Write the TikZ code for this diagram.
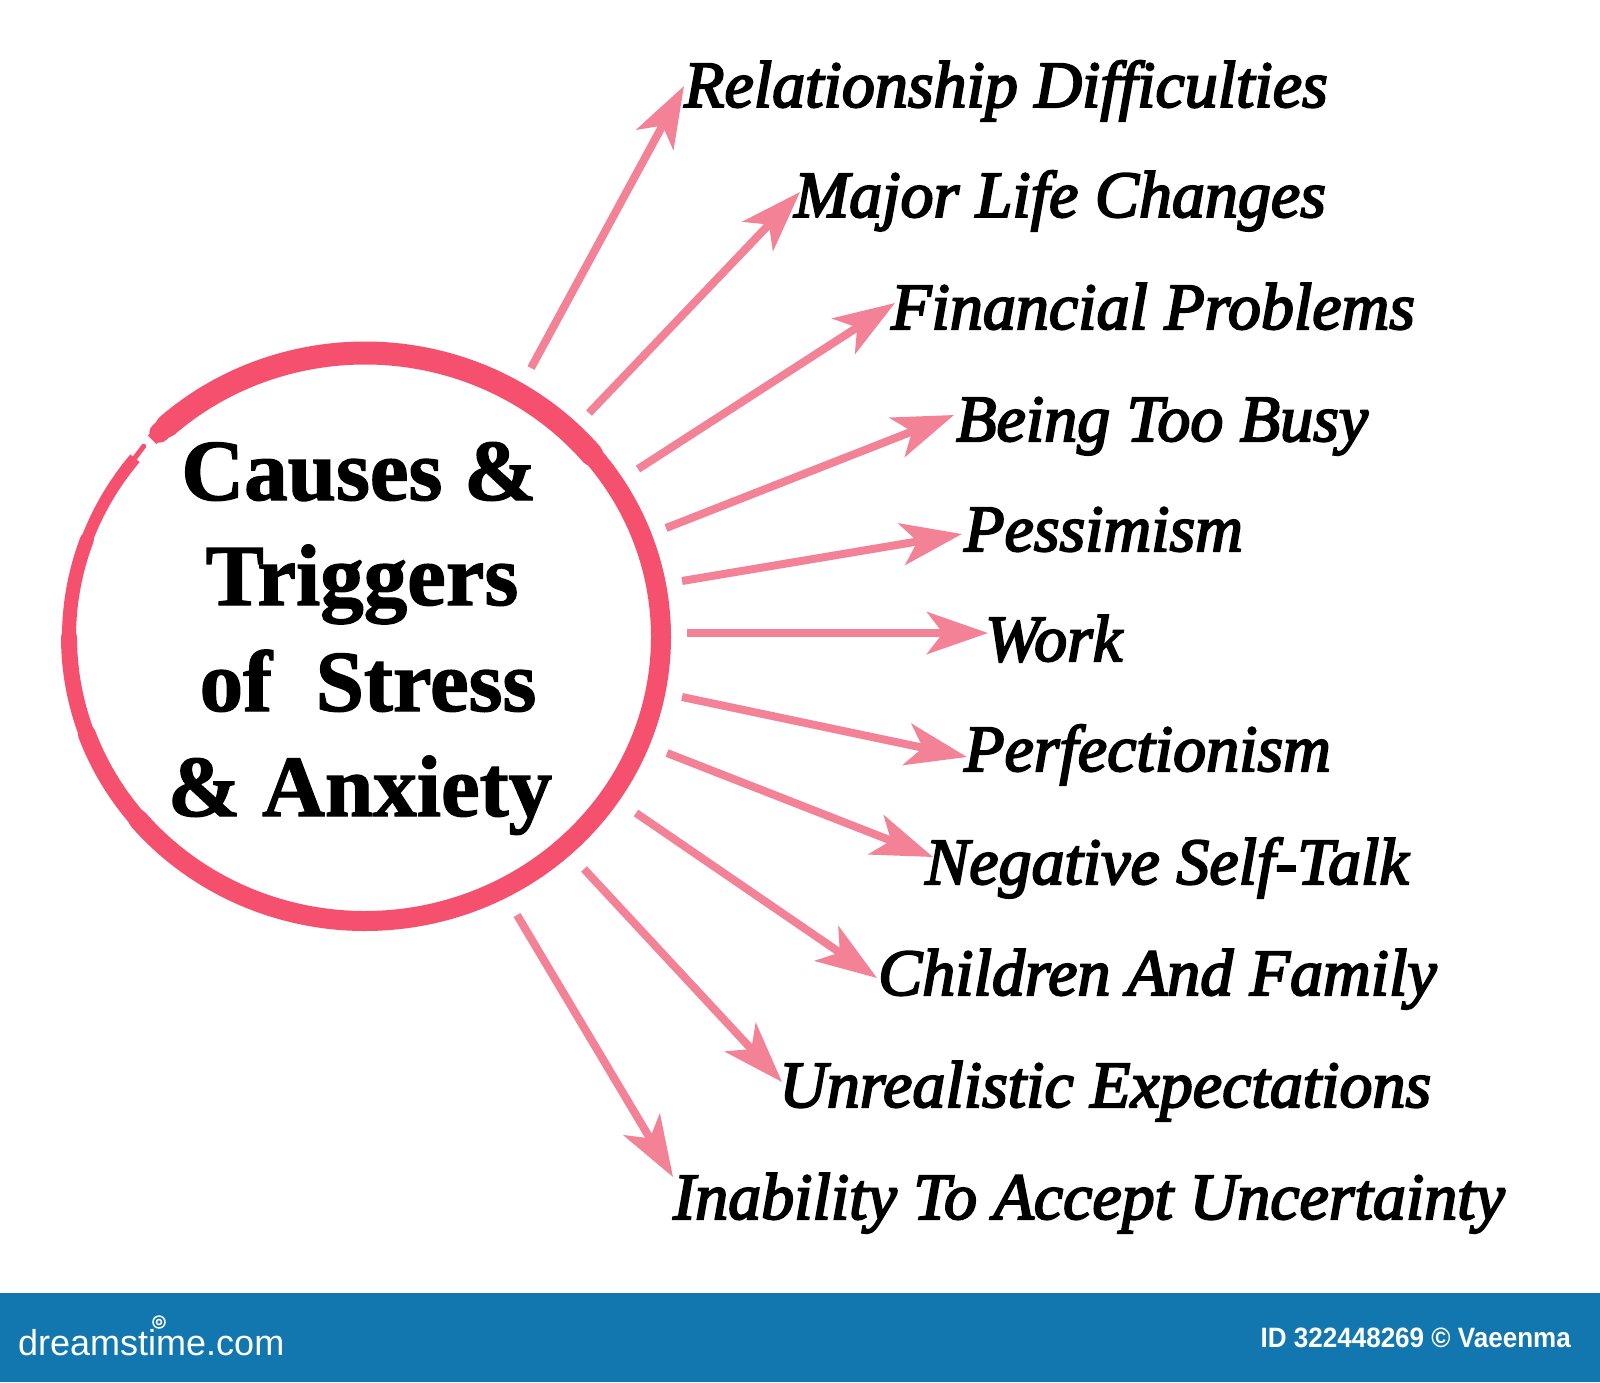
\documentclass[tikz,border=0pt]{standalone}
\usepackage{fontspec}
\usetikzlibrary{arrows.meta}
\setmainfont{Liberation Serif}
\newfontfamily\lblfont[FakeBold=3]{Liberation Serif}
\newfontfamily\ttlfont[FakeBold=1.5]{Liberation Serif}
\newfontfamily\footfont{Liberation Sans}
\definecolor{circpink}{RGB}{245,80,110}
\definecolor{arrpink}{RGB}{243,130,150}
\definecolor{barblue}{RGB}{17,119,174}
\tikzset{
  arr/.style={draw=arrpink, line width=8pt, -{Stealth[length=61pt,width=42pt,inset=16pt]}},
  lbl/.style={anchor=base west, inner sep=0pt, font=\lblfont\itshape\fontsize{66}{70}\selectfont},
  ttl/.style={anchor=base, inner sep=0pt, font=\ttlfont\bfseries\fontsize{87}{105}\selectfont},
  foot/.style={inner sep=0pt, text=white, font=\footfont},
  circ/.style={draw=circpink}
}
\begin{document}
\begin{tikzpicture}[x=1pt,y=-1pt]
\useasboundingbox (0,0) rectangle (1600,1382);
\fill[white] (0,0) rectangle (1600,1382);
% hand-drawn circle (screen y points down), stroke thinning on the left side
\draw[circ, line width=12pt] (365,637) ++(-136:296 and 284) arc[start angle=-136, end angle=219, x radius=296, y radius=284];
\foreach \ea/\w in {200/14, 180/16, 160/18, 140/20} {
  \draw[circ, line width=\w pt, line cap=round] (365,637) ++(-134:296 and 284) arc[start angle=-134, end angle=\ea, x radius=296, y radius=284];
}
\draw[circ, line width=23pt, line cap=round] (365,637) ++(-132:296 and 284) arc[start angle=-132, end angle=-40, x radius=296, y radius=284];
\draw[circ, line width=5pt, line cap=round] (365,637) ++(218:296 and 284) -- ++(12,-16);
% title
\node[ttl] (title1) at (359,500) {Causes \&};
\node[ttl] (title2) at (362,605) {Triggers};
\node[ttl] (title3) at (368,711) {of\ \ Stress};
\node[ttl] (title4) at (360,816) {\& Anxiety};
% labels
\node[lbl] (l1) at (684,107) {Relationship Difficulties};
\node[lbl] (l2) at (794,217) {Major Life Changes};
\node[lbl] (l3) at (891,329) {Financial Problems};
\node[lbl] (l4) at (956,441) {Being Too Busy};
\node[lbl] (l5) at (964,551) {Pessimism};
\node[lbl] (l6) at (985,661) {Work};
\node[lbl] (l7) at (964,771) {Perfectionism};
\node[lbl] (l8) at (925,884) {Negative Self-Talk};
\node[lbl] (l9) at (878,995) {Children And Family};
\node[lbl] (l10) at (779,1107) {Unrealistic Expectations};
\node[lbl] (l11) at (673,1219) {Inability To Accept Uncertainty};
% arrow ends
\coordinate (s1) at (531,368);  \coordinate (e1) at (684,86);
\coordinate (s2) at (589,413);  \coordinate (e2) at (800,192);
\coordinate (s3) at (638,469);  \coordinate (e3) at (895,303);
\coordinate (s4) at (666,528);  \coordinate (e4) at (954,415);
\coordinate (s5) at (682,581);  \coordinate (e5) at (962,534);
\coordinate (s6) at (687,633);  \coordinate (e6) at (988,633);
\coordinate (s7) at (682,697);  \coordinate (e7) at (967,757);
\coordinate (s8) at (667,753);  \coordinate (e8) at (933,857);
\coordinate (s9) at (636,813);  \coordinate (e9) at (877,978);
\coordinate (s10) at (584,869); \coordinate (e10) at (782,1082);
\coordinate (s11) at (517,915); \coordinate (e11) at (673,1177);
\foreach \i in {1,...,11} { \draw[arr] (s\i) -- (e\i); }
% footer
\fill[barblue] (0,1293) rectangle (1600,1382);
\node[foot, anchor=west, font=\footfont\fontsize{36}{40}\selectfont] (logo) at (18,1343) {dreamstime.com};
\draw[white, line width=1.5pt] (159,1322) circle (6) (159,1322) circle (2.5);
\node[foot, anchor=east, font=\footfont\bfseries\fontsize{28}{30}\selectfont] (credit) at (1571,1338) {\scalebox{0.93}[1]{ID 322448269 © Vaeenma}};
\end{tikzpicture}
\end{document}
